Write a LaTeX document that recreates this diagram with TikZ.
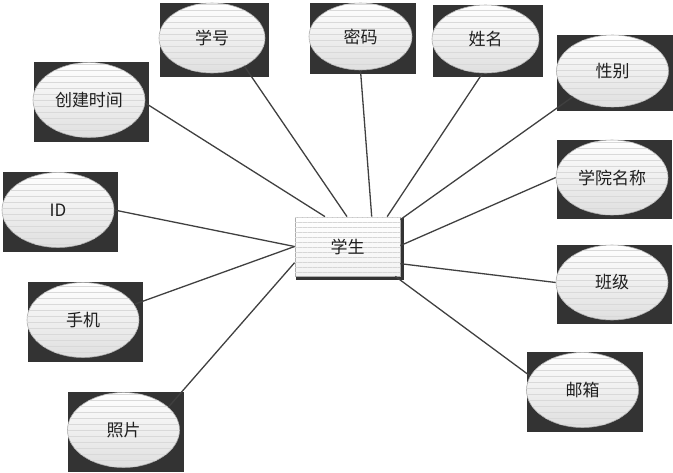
\documentclass[tikz,border=0pt]{standalone}
\usepackage{fontspec}
\newfontfamily\cjk{Noto Sans CJK SC}
\usetikzlibrary{shapes.geometric, patterns.meta, backgrounds, calc}

\begin{document}
\begin{tikzpicture}[x=1pt, y=-1pt,
  every node/.style={font=\cjk\fontsize{17}{19}\selectfont, text=black!88, inner sep=0pt},
  attr/.style={ellipse, draw=gray!65, line width=0.6pt, top color=white, middle color=white, bottom color=gray!25,
    postaction={pattern={Lines[angle=0, distance=6pt, line width=0.45pt]}, pattern color=gray!30},
    minimum width=112, minimum height=75},
  ent/.style={rectangle, draw=gray!65, line width=0.8pt, top color=white, bottom color=gray!10,
    postaction={pattern={Lines[angle=0, distance=5pt, line width=0.45pt]}, pattern color=gray!32},
    minimum width=105, minimum height=59},
  box/.style={fill=black!80},
  link/.style={draw=black!75, line width=1.3pt}]
  \useasboundingbox (0,0) rectangle (673,472);
  \node[ent] (stu) at (347.5,246.5) {学生};
  \node[attr] (cjsj) at (89,100) {创建时间};
  \node[attr, minimum width=106, minimum height=70] (xh) at (212,38) {学号};
  \node[attr, minimum width=103, minimum height=67] (mm) at (360.5,36.5) {密码};
  \node[attr, minimum width=107, minimum height=68] (xm) at (485.5,39) {姓名};
  \node[attr, minimum height=72] (xb) at (612.5,71) {性别};
  \node[attr] (xymc) at (612,177.5) {学院名称};
  \node[attr] (bj) at (612,282.5) {班级};
  \node[attr] (yx) at (582.5,390) {邮箱};
  \node[attr] (id) at (58,210) {ID};
  \node[attr] (sj) at (83,320) {手机};
  \node[attr] (zp) at (123.5,430) {照片};
  \begin{scope}[on background layer]
    \fill[box] ($(stu.north west)+(1,1)$) rectangle ($(stu.south east)+(4,4)$);
    \fill[box] ($(cjsj.west |- cjsj.north)+(1,0)$) rectangle ($(cjsj.east |- cjsj.south)+(4,4)$);
    \fill[box] ($(xh.west |- xh.north)+(1,0)$) rectangle ($(xh.east |- xh.south)+(4,4)$);
    \fill[box] ($(mm.west |- mm.north)+(1,0)$) rectangle ($(mm.east |- mm.south)+(4,4)$);
    \fill[box] ($(xm.west |- xm.north)+(1,0)$) rectangle ($(xm.east |- xm.south)+(4,4)$);
    \fill[box] ($(xb.west |- xb.north)+(1,0)$) rectangle ($(xb.east |- xb.south)+(4,4)$);
    \fill[box] ($(xymc.west |- xymc.north)+(1,0)$) rectangle ($(xymc.east |- xymc.south)+(4,4)$);
    \fill[box] ($(bj.west |- bj.north)+(1,0)$) rectangle ($(bj.east |- bj.south)+(4,4)$);
    \fill[box] ($(yx.west |- yx.north)+(1,0)$) rectangle ($(yx.east |- yx.south)+(4,4)$);
    \fill[box] ($(id.west |- id.north)+(1,0)$) rectangle ($(id.east |- id.south)+(4,4)$);
    \fill[box] ($(sj.west |- sj.north)+(1,0)$) rectangle ($(sj.east |- sj.south)+(4,4)$);
    \fill[box] ($(zp.west |- zp.north)+(1,0)$) rectangle ($(zp.east |- zp.south)+(4,4)$);
  \end{scope}
  \draw[link] (stu.127) -- (cjsj.-3);
  \draw[link] (stu.91) -- (xh.-41);
  \draw[link] (stu.51) -- (mm.-90);
  \draw[link] (stu.37) -- (xm.-95);
  \draw[link] (stu.27) -- (xb.213);
  \draw[link] (stu.1) -- (xymc.180);
  \draw[link] (stu.-18) -- (bj.180);
  \draw[link] (stu.-32) -- (yx.165);
  \draw[link] (stu.180) -- (id.0);
  \draw[link] (stu.180) -- (sj.17);
  \draw[link] (stu.197) -- (zp.27);
\end{tikzpicture}
\end{document}
